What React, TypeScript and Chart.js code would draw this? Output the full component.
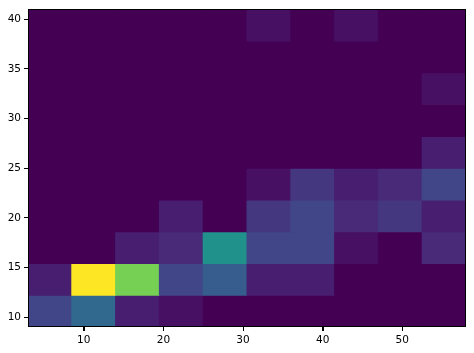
import React, { useEffect, useRef } from "react";
import { Chart, registerables } from "chart.js";

Chart.register(...registerables);

// Bin edges of the 2D histogram
const xEdges = [3, 8.5, 14, 19.5, 25, 30.5, 36, 41.5, 47, 52.5, 58];
const yEdges = [9, 12.2, 15.4, 18.6, 21.8, 25, 28.2, 31.4, 34.6, 37.8, 41];

// Counts per y-bin (bottom to top), each listing the 10 x-bins
const row0 = [5, 8, 2, 1, 0, 0, 0, 0, 0, 0];
const row1 = [2, 24, 19, 5, 7, 2, 2, 0, 0, 0];
const row2 = [0, 0, 2, 3, 12, 5, 5, 1, 0, 3];
const row3 = [0, 0, 0, 2, 0, 4, 5, 3, 4, 2];
const row4 = [0, 0, 0, 0, 0, 1, 4, 2, 3, 5];
const row5 = [0, 0, 0, 0, 0, 0, 0, 0, 0, 2];
const row6 = [0, 0, 0, 0, 0, 0, 0, 0, 0, 0];
const row7 = [0, 0, 0, 0, 0, 0, 0, 0, 0, 1];
const row8 = [0, 0, 0, 0, 0, 0, 0, 0, 0, 0];
const row9 = [0, 0, 0, 0, 0, 1, 0, 1, 0, 0];
const rows = [row0, row1, row2, row3, row4, row5, row6, row7, row8, row9];

const xTicks = [10, 20, 30, 40, 50];
const yTicks = [10, 15, 20, 25, 30, 35, 40];

// viridis colormap stops
const viridis = [
  "#440154", "#471365", "#482475", "#472f7d", "#414487", "#3b528b",
  "#355f8d", "#2f6c8e", "#2a788e", "#25848e", "#21918c", "#1e9c89",
  "#22a884", "#35b779", "#44bf70", "#5ec962", "#7ad151", "#a5db36",
  "#bddf26", "#dfe318", "#fde725",
];

function hexToRgb(h: string) {
  return [parseInt(h.slice(1, 3), 16), parseInt(h.slice(3, 5), 16), parseInt(h.slice(5, 7), 16)];
}

function viridisColor(t: number) {
  const n = viridis.length - 1;
  const p = Math.max(0, Math.min(1, t)) * n;
  const i = Math.min(Math.floor(p), n - 1);
  const f = p - i;
  const a = hexToRgb(viridis[i]);
  const b = hexToRgb(viridis[i + 1]);
  const c = a.map((v, k) => Math.round(v + (b[k] - v) * f));
  return `rgb(${c[0]},${c[1]},${c[2]})`;
}

const framePlugin = {
  id: "frame",
  afterDraw(chart: any) {
    const { ctx, chartArea } = chart;
    ctx.save();
    ctx.strokeStyle = "#000";
    ctx.lineWidth = 1;
    const bottom = Math.round(chartArea.bottom);
    ctx.strokeRect(
      Math.round(chartArea.left) + 0.5,
      Math.round(chartArea.top) + 0.5,
      Math.round(chartArea.right - chartArea.left) - 1,
      bottom - Math.round(chartArea.top) - 1
    );
    // x tick marks below the bottom spine
    const xs = chart.scales.x;
    ctx.beginPath();
    xs.ticks.forEach((t: any) => {
      const px = Math.round(xs.getPixelForValue(t.value)) + 0.5;
      ctx.moveTo(px, bottom);
      ctx.lineTo(px, bottom + 4);
    });
    ctx.stroke();
    ctx.restore();
  },
};

export default function App() {
  const ref = useRef<HTMLCanvasElement>(null);

  useEffect(() => {
    if (!ref.current) return;
    const maxCount = Math.max(...rows.flat());
    const data: any[] = [];
    const colors: string[] = [];
    rows.forEach((row, i) => {
      row.forEach((c, j) => {
        data.push({ x: (xEdges[j] + xEdges[j + 1]) / 2, y: [yEdges[i], yEdges[i + 1]] });
        colors.push(viridisColor(c / maxCount));
      });
    });

    const font = { family: "DejaVu Sans", size: 10.5 };
    const gridOpts = {
      display: true,
      offset: false,
      drawOnChartArea: false,
      drawTicks: true,
      tickLength: 4,
      tickWidth: 1,
      tickColor: "#000",
      color: "#000",
    };
    const chart = new Chart(ref.current, {
      type: "bar",
      data: {
        datasets: [
          {
            data,
            backgroundColor: colors,
            borderWidth: 0,
            borderSkipped: false,
            barPercentage: 1,
            categoryPercentage: 1,
            inflateAmount: 0.5,
          } as any,
        ],
      },
      options: {
        animation: false,
        responsive: true,
        maintainAspectRatio: false,
        layout: { padding: { top: 8, right: 8, left: 0, bottom: 0 } },
        plugins: { legend: { display: false }, tooltip: { enabled: false } },
        scales: {
          x: {
            type: "linear",
            min: xEdges[0],
            max: xEdges[xEdges.length - 1],
            offset: false,
            afterBuildTicks: (axis: any) => {
              axis.ticks = xTicks.map((v) => ({ value: v }));
            },
            afterFit: (axis: any) => {
              axis.height = 26;
            },
            grid: gridOpts,
            border: { display: false },
            ticks: { color: "#000", font, padding: 3, maxRotation: 0, autoSkip: false },
          },
          y: {
            type: "linear",
            min: yEdges[0],
            max: yEdges[yEdges.length - 1],
            afterBuildTicks: (axis: any) => {
              axis.ticks = yTicks.map((v) => ({ value: v }));
            },
            afterFit: (axis: any) => {
              axis.width = 28;
            },
            grid: gridOpts,
            border: { display: false },
            ticks: { color: "#000", font, padding: 3, autoSkip: false },
          },
        },
      },
      plugins: [framePlugin],
    });
    return () => chart.destroy();
  }, []);

  return (
    <div style={{ position: "fixed", left: 0, top: 0, width: 474, height: 353, background: "#fff" }}>
      <canvas ref={ref} />
    </div>
  );
}
